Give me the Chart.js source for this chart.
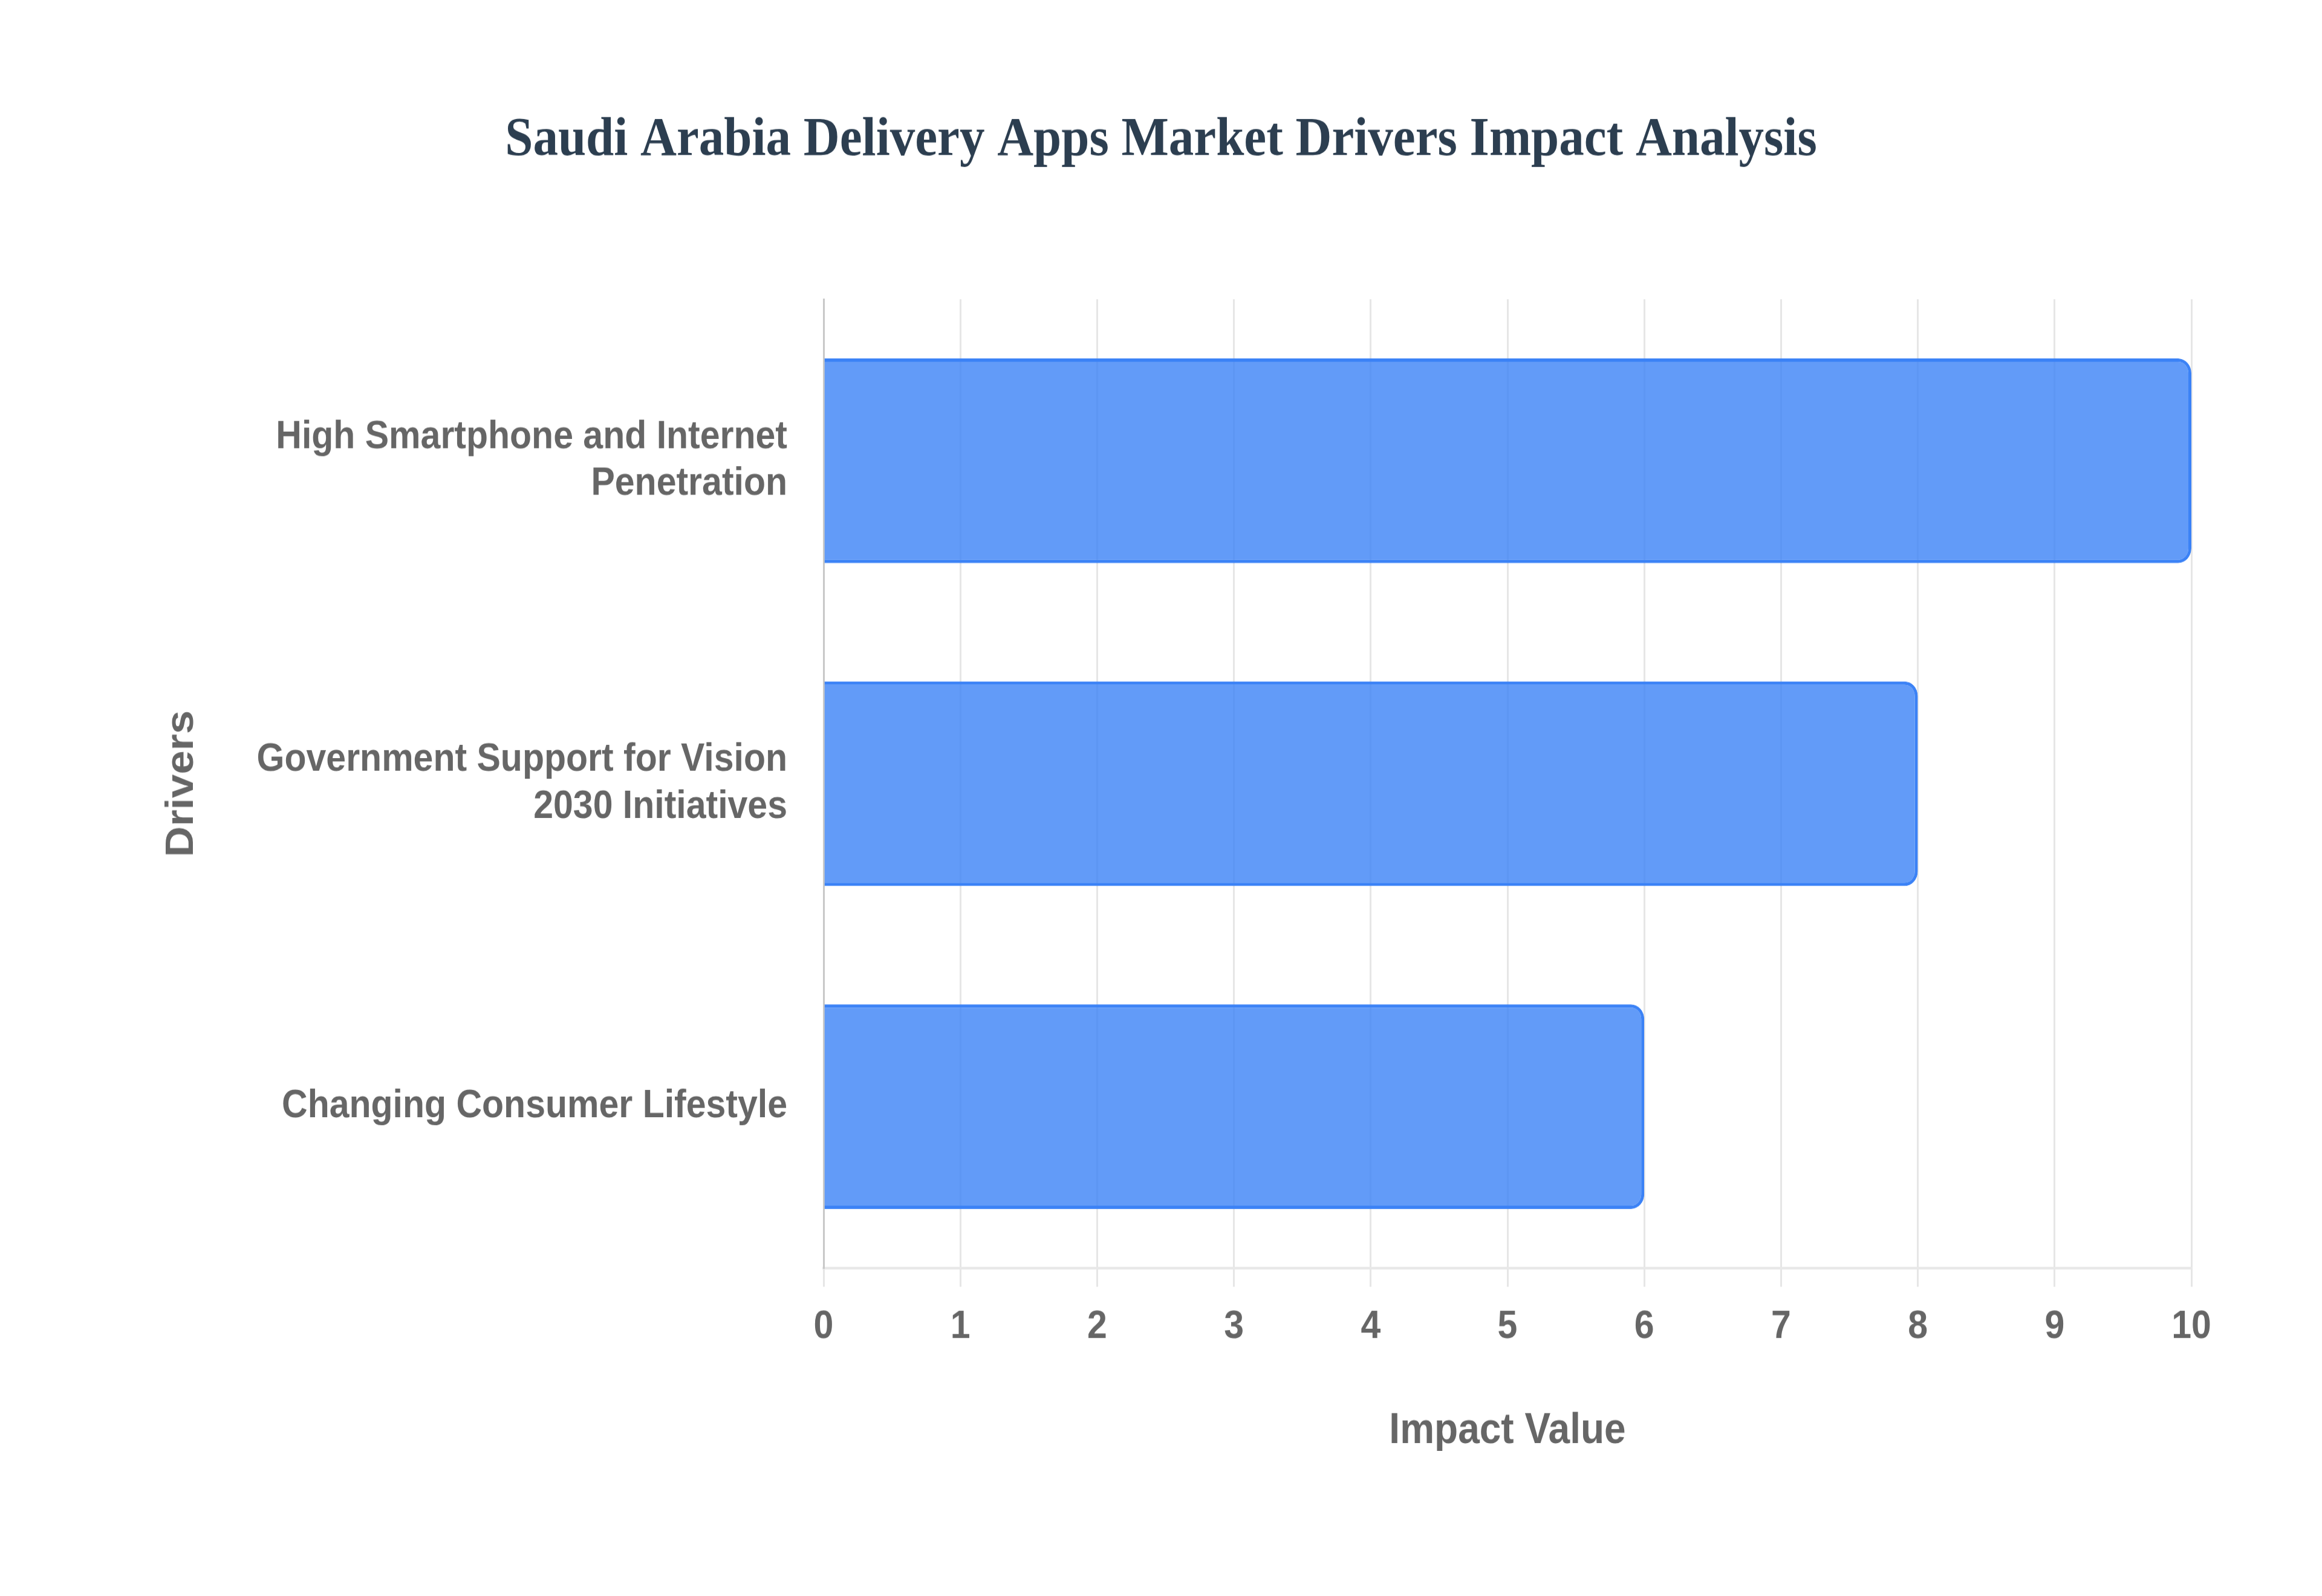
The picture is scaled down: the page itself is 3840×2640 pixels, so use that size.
<!DOCTYPE html>
<html>
<head>
<meta charset="utf-8">
<title>Saudi Arabia Delivery Apps Market Drivers Impact Analysis</title>
<script src="https://cdn.jsdelivr.net/npm/chart.js@4.4.1/dist/chart.umd.min.js"></script>
<style>
  html, body { margin: 0; padding: 0; background: #ffffff; overflow: hidden; }
  /* the reference is a little stretched vertically, so stretch the whole chart the same way */
  #wrap { width: 3840px; height: 2400px; transform: scaleY(1.1); transform-origin: 0 0; }
  #myChart { display: block; }
</style>
</head>
<body>
<div id="wrap"><canvas id="myChart" width="3840" height="2400"></canvas></div>
<script>
// chart data
var drivers = [
  ["High Smartphone and Internet", "Penetration"],
  ["Government Support for Vision", "2030 Initiatives"],
  "Changing Consumer Lifestyle"
];
var impactValues = [10, 8, 6];
var axisMin = 0;
var axisMax = 10;
var axisStep = 1;

var chartTitle = "Saudi Arabia Delivery Apps Market Drivers Impact Analysis";
var xTitle = "Impact Value";
var yTitle = "Drivers";

var sansFont = "'Liberation Sans', Arial, Helvetica, sans-serif";
var serifFont = "'Liberation Serif', 'Times New Roman', serif";

const data = {
  labels: drivers,
  datasets: [
    {
      label: "Impact",
      data: impactValues,
      backgroundColor: "rgba(59, 130, 246, 0.8)",
      borderColor: "rgb(59, 130, 246)",
      borderWidth: 5,
      borderRadius: 22,
      categoryPercentage: 0.8,
      barPercentage: 0.792,
    },
  ],
};

const config = {
  type: "bar",
  data: data,
  options: {
    indexAxis: "y",
    responsive: false,
    animation: false,
    devicePixelRatio: 1,
    layout: {
      padding: { top: 102, left: 216, right: 216, bottom: 209.6 },
    },
    plugins: {
      legend: { display: false },
      tooltip: { enabled: false },
      title: {
        display: true,
        text: chartTitle,
        color: "#2c3e50",
        font: { family: serifFont, size: 83, weight: "bold" },
        // push the title down a little, keep the plot top where it is
        padding: { top: 60, bottom: 188.4 },
      },
    },
    scales: {
      x: {
        min: axisMin,
        max: axisMax,
        grid: {
          color: "#e6e6e6",
          lineWidth: 3,
          tickLength: 28,
        },
        border: { color: "#e8e8e8", width: 4 },
        ticks: {
          stepSize: axisStep,
          padding: 25,
          color: "#666666",
          font: { family: sansFont, size: 59, weight: "bold" },
        },
        title: {
          display: true,
          text: xTitle,
          color: "#666666",
          font: { family: sansFont, size: 64, weight: "bold" },
          padding: { top: 0, bottom: 0 },
        },
        // fixed height so the axis title sits where it does in the picture
        afterFit: function (scale) {
          scale.height = 283.4;
        },
      },
      y: {
        grid: { display: false, drawTicks: false },
        border: { color: "#c8c8c8", width: 3 },
        ticks: {
          padding: 60,
          color: "#666666",
          font: { family: sansFont, size: 59, weight: "bold" },
        },
        title: {
          display: true,
          text: yTitle,
          color: "#666666",
          font: { family: sansFont, size: 64, weight: "bold" },
          padding: { top: 46.6, bottom: 0 },
        },
        afterFit: function (scale) {
          scale.width = 1362 - 216;
        },
      },
    },
  },
};

var myChart = new Chart(document.getElementById("myChart"), config);
</script>
</body>
</html>
